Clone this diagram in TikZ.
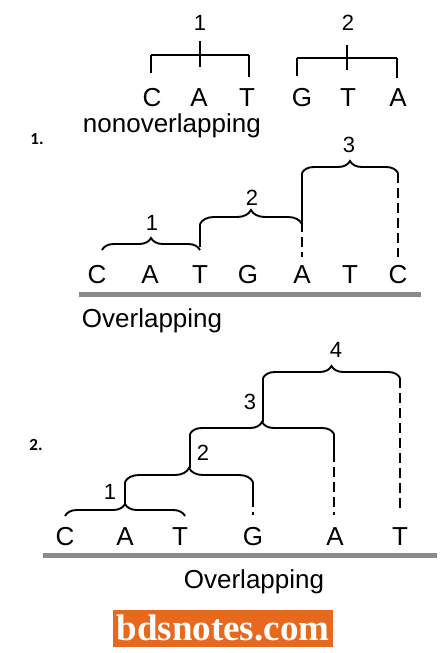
\documentclass[tikz,border=0pt]{standalone}
\usepackage{fontspec}
\setmainfont{Liberation Sans}
\newfontfamily\tagfont{Carlito}
\newfontfamily\logofont{Liberation Serif}
\usetikzlibrary{decorations.pathreplacing}

\definecolor{logoorange}{HTML}{E8691E}
\definecolor{rulegray}{HTML}{8A8A8A}

\tikzset{
  letter/.style={font=\fontsize{26}{26}\selectfont, inner sep=0pt, anchor=base},
  num/.style={font=\fontsize{22}{22}\selectfont, inner sep=0pt},
  tag/.style={font=\tagfont\bfseries\fontsize{17}{17}\selectfont, inner sep=0pt},
  cbrace/.style={decorate, decoration={brace, amplitude=#1}},
  cbrace/.default=12pt,
  dleg/.style={dash pattern=on 10pt off 5pt},
  seqrule/.style={line width=5pt, rulegray},
}

\begin{document}
\begin{tikzpicture}[x=1pt,y=-1pt,line width=1.9pt]
    \useasboundingbox (0,0) rectangle (441,653);

    % 1. nonoverlapping
    \node[tag] (tag1) at (37,139) {1.};
    \node[letter] (t1) at (152,106) {C};
    \node[letter] (t2) at (199,106) {A};
    \node[letter] (t3) at (247,106) {T};
    \node[letter] (t4) at (302,106) {G};
    \node[letter] (t5) at (348,106) {T};
    \node[letter] (t6) at (398,106) {A};
    \node[letter, anchor=base west] (nonov) at (82,132) {nonoverlapping};

    \node[num] (n1) at (200,23) {1};
    \coordinate (k1l) at (151,55);
    \coordinate (k1r) at (249,55);
    \draw (k1l) -- (k1r);
    \draw (k1l) -- (151,73);
    \draw (k1r) -- (249,77);
    \draw (200,41) -- (200,67);

    \node[num] (n2) at (348,23) {2};
    \coordinate (k2l) at (297,58);
    \coordinate (k2r) at (397,58);
    \draw (k2l) -- (k2r);
    \draw (k2l) -- (297,76);
    \draw (k2r) -- (397,78);
    \draw (347,45) -- (347,70);

    % overlapping, one step
    \node[letter] (m1) at (97,283) {C};
    \node[letter] (m2) at (150,283) {A};
    \node[letter] (m3) at (200,283) {T};
    \node[letter] (m4) at (248,283) {G};
    \node[letter] (m5) at (302,283) {A};
    \node[letter] (m6) at (350,283) {T};
    \node[letter] (m7) at (398,283) {C};
    \draw[seqrule] (79,294.5) -- (421,294.5);
    \node[letter, anchor=base west] (ovl1) at (81,327) {Overlapping};

    \node[num] (o1) at (152,223) {1};
    \draw[cbrace] (102,250) -- (200,250);

    \node[num] (o2) at (252,198) {2};
    \coordinate (b2l) at (200,224);
    \coordinate (b2r) at (302,224);
    \draw[cbrace=14pt] (b2l) -- (b2r);
    \draw (b2l) -- (200,247);

    \node[num] (o3) at (349,145) {3};
    \coordinate (b3l) at (302,173);
    \coordinate (b3r) at (398,173);
    \draw[cbrace] (b3l) -- (b3r);
    \draw (b3l) -- (302,222);
    \draw[dleg] (302,222) -- (302,257);
    \draw[dleg] (b3r) -- (398,257);

    % 2. overlapping, nested
    \node[tag] (tag2) at (36,445) {2.};
    \node[letter] (q1) at (65,545) {C};
    \node[letter] (q2) at (125,545) {A};
    \node[letter] (q3) at (180,545) {T};
    \node[letter] (q4) at (253,545) {G};
    \node[letter] (q5) at (335,545) {A};
    \node[letter] (q6) at (400,545) {T};
    \draw[seqrule] (43,555) -- (437,555);
    \node[letter] (ovl2) at (254,588) {Overlapping};

    \node[num] (p1) at (110,492) {1};
    \draw[cbrace] (65,516) -- (185,516);

    \node[num] (p2) at (203,453) {2};
    \coordinate (c2l) at (125,482);
    \coordinate (c2r) at (253,482);
    \draw[cbrace=14pt] (c2l) -- (c2r);
    \draw (c2l) -- (125,504);
    \draw (c2r) -- (253,497);
    \draw[dleg] (253,497) -- (253,515);

    \node[num] (p3) at (250,402) {3};
    \coordinate (c3l) at (190,434);
    \coordinate (c3r) at (334,434);
    \draw[cbrace] (c3l) -- (c3r);
    \draw (c3l) -- (190,468);
    \draw (c3r) -- (334,452);
    \draw[dleg] (334,452) -- (334,515);

    \node[num] (p4) at (336,350) {4};
    \coordinate (c4l) at (263,378);
    \coordinate (c4r) at (400,378);
    \draw[cbrace] (c4l) -- (c4r);
    \draw (c4l) -- (263,422);
    \draw[dleg] (c4r) -- (400,512);

    % watermark
    \fill[logoorange] (113,610) rectangle (333,647);
    \node[anchor=base, inner sep=0pt, text=white,
          font=\logofont\bfseries\fontsize{37}{37}\selectfont] (logo) at (223,640) {bdsnotes.com};
\end{tikzpicture}
\end{document}
